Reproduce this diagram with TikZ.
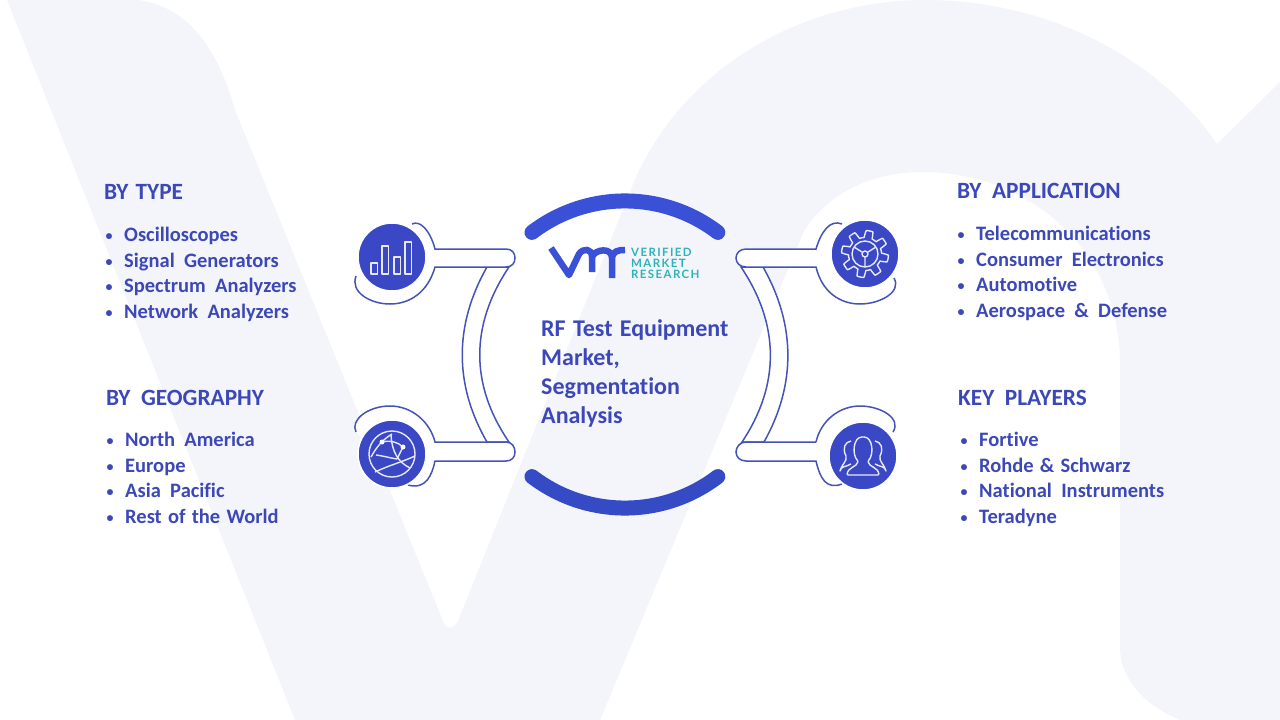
\documentclass[tikz,border=0pt]{standalone}
\usepackage{fontspec}
\setmainfont[Ligatures=CommonOff, WordSpace=2]{Carlito}
\newfontfamily\tightwords[Ligatures=CommonOff, WordSpace=1.35]{Carlito}
\newfontfamily\logofont[LetterSpace=12]{Lato}
\usepackage{xcolor}
\usetikzlibrary{positioning, calc}
\definecolor{palebg}{HTML}{F4F5FB}
\definecolor{textblue}{HTML}{3C48B8}
\definecolor{ballblue}{HTML}{3A48C6}
\definecolor{arcblue}{HTML}{3A50D6}
\definecolor{ringblue}{HTML}{4453B8}
\definecolor{logoteal}{HTML}{2DB4B8}
\newcommand{\blt}{\makebox[20pt][l]{\hspace{1.5pt}\raisebox{1pt}{\fontsize{14}{14}\selectfont •}}}

\begin{document}
\begin{tikzpicture}[x=1pt, y=-1pt,
    head/.style={anchor=base west, inner sep=0, text=textblue, font=\fontsize{23.3}{26}\selectfont\bfseries},
    items/.style={anchor=north west, inner sep=0, align=left, text=textblue, font=\fontsize{20.5}{25.6}\selectfont\bfseries},
    iconball/.style={circle, fill=ballblue, draw=white, line width=1.5pt, minimum size=68pt, inner sep=0},
    ring/.style={draw=ringblue, line width=1.5pt, fill=white},
    bigarc/.style={line width=15pt, line cap=round},
    iconline/.style={draw=white!88!ballblue, line width=1.4pt, line join=round},
    logotext/.style={anchor=base west, inner sep=0, text=logoteal, font=\fontsize{11.5}{11}\selectfont\logofont\bfseries}
]
    \useasboundingbox (0,0) rectangle (1280,720);
    \fill[white] (0,0) rectangle (1280,720);

    % Background letters
    \fill[palebg] (7,0) -- (139,0) .. controls (190,8) and (218,50) .. (235,110)
        -- (443,621) .. controls (447,630) and (453,630) .. (458,621)
        -- (636,177) .. controls (690,60) and (810,0) .. (925,0)
        .. controls (1050,0) and (1160,60) .. (1217,144)
        -- (1280,82) -- (1280,720) -- (1180,720)
        .. controls (1145,705) and (1120,680) .. (1120,647)
        -- (1120,360) .. controls (1118,250) and (1030,172) .. (922,172)
        .. controls (870,172) and (825,195) .. (803,233)
        -- (600,720) -- (295,720) -- cycle;

    % Thick arcs
    \draw[bigarc, arcblue] (532,232.4) arc[start angle=127.4, end angle=52.6, radius=153pt];
    \draw[bigarc, arcblue!92!black] (532,476.6) arc[start angle=232.6, end angle=307.4, radius=153pt];

    % Left band
    \draw[ring] (487,267) .. controls (454,325) and (454,385) .. (487,442) -- (509,442)
        .. controls (470,385) and (470,325) .. (509,267) -- cycle;
    % Right band
    \draw[ring] (763,267) .. controls (796,325) and (796,385) .. (764,442) -- (742,442)
        .. controls (780,385) and (780,325) .. (741,267) -- cycle;

    % Halos with bars
    \draw[ring] (412,224) .. controls (420,220) and (430,230) .. (435,249) -- (506,249)
        .. controls (512,249) and (515,253) .. (515,258) .. controls (515,263) and (512,267) .. (506,267)
        -- (435,267) .. controls (428,292) and (410,304) .. (390,304)
        .. controls (370,304) and (350,292) .. (356,276);
    \draw[ring] (356,432) .. controls (350,420) and (368,406) .. (390,406)
        .. controls (412,406) and (430,422) .. (435,442) -- (506,442)
        .. controls (512,442) and (515,447) .. (515,452) .. controls (515,457) and (512,461) .. (506,461)
        -- (435,461) .. controls (432,475) and (426,490) .. (408,485);
    \draw[ring] (842,224) .. controls (830,219) and (821,232) .. (816,249) -- (746,249)
        .. controls (740,249) and (736,253) .. (736,258) .. controls (736,263) and (740,267) .. (746,267)
        -- (816,267) .. controls (822,292) and (840,304) .. (860,304)
        .. controls (880,304) and (902,292) .. (894,278);
    \draw[ring] (816,442) .. controls (821,420) and (840,406) .. (860,406)
        .. controls (880,406) and (902,418) .. (893,432);
    \draw[ring] (842,484) .. controls (826,490) and (820,478) .. (816,461) -- (746,461)
        .. controls (740,461) and (736,457) .. (736,452) .. controls (736,447) and (740,442) .. (746,442) -- (816,442);

    % Icon discs
    \node[iconball] (typeicon) at (392,257) {};
    \node[iconball] (geoicon) at (392,454) {};
    \node[iconball] (appicon) at (865,254) {};
    \node[iconball] (playericon) at (863,456) {};

    % Bars glyph
    \foreach \xa/\ya in {371/263, 382/246, 394/257, 405/242}
        \draw[iconline] (\xa,\ya) rectangle ++(6.5,\ya*0+274-\ya);

    % Globe glyph
    \draw[iconline] (geoicon.center) circle[radius=23pt];
    \draw[iconline] (371,457) .. controls (376,448) and (382,440) .. (392,434);
    \draw[iconline] (382,442) .. controls (390,440) and (398,442) .. (403,447);
    \draw[iconline] (391,435) .. controls (392,452) and (398,462) .. (410,468);
    \draw[iconline] (375,472) .. controls (390,465) and (402,462) .. (415,456);
    \draw[iconline] (403,447) -- (397,459);
    \draw[iconline] (376,455) .. controls (384,456) and (390,458) .. (397,459);
    \fill[white] (382,442) circle[radius=2.5pt] (403,447) circle[radius=2.5pt];

    % Gear glyph
    \draw[iconline] plot[samples=241, domain=0:360] ({865+(20+3.5*max(-1,min(1,2.5*sin(8*\x)))) * cos(\x)}, {254+(20+3.5*max(-1,min(1,2.5*sin(8*\x)))) * sin(\x)}) -- cycle;
    \draw[iconline] (appicon.center) circle[radius=13pt];
    \draw[iconline] (appicon.center) circle[radius=3pt];
    \draw[iconline] (865,257) -- (865,267) (862,252) -- (854,247) (868,252) -- (876,247);

    % People glyph
    \draw[iconline, rounded corners=1pt] (847,475) .. controls (848,467) and (857,467) .. (858,461)
        .. controls (852,455) and (853,437) .. (863,437) .. controls (873,437) and (874,455) .. (868,461)
        .. controls (869,467) and (878,467) .. (879,475) -- cycle;
    \draw[iconline] (851,464) .. controls (846,467) and (841,466) .. (840,471) .. controls (843,462) and (847,462) .. (846,456)
        .. controls (842,448) and (845,442) .. (851,441);
    \draw[iconline] (875,464) .. controls (880,467) and (885,466) .. (886,471) .. controls (883,462) and (879,462) .. (880,456)
        .. controls (884,448) and (881,442) .. (875,441);

    % Logo
    \draw[arcblue, line width=6.5pt, line join=round] (551,248) -- (569,275) -- (579,254)
        .. controls (583,248) and (592,248) .. (592,257) -- (592,272)
        (592,257) .. controls (595,249) and (612,247) .. (612,258) -- (612,278)
        (612,258) .. controls (613,251) and (618,250) .. (625,250);
    \node[logotext] (logoverified) at (631,256) {VERIFIED};
    \node[logotext] (logomarket) at (631,267) {MARKET};
    \node[logotext] (logoresearch) at (631,278) {RESEARCH};

    % Title
    \node[anchor=north west, inner sep=0, align=left, text=textblue, font=\fontsize{24}{29}\selectfont\tightwords\bfseries] (title) at (541,319.5) {RF Test Equipment\\Market,\\Segmentation\\Analysis};

    % By type
    \node[head, font=\fontsize{23.3}{26}\selectfont\tightwords\bfseries] (typehead) at (104,199) {BY TYPE};
    \node[items] (typelist) at (104,227) {\blt Oscilloscopes\\\blt Signal Generators\\\blt Spectrum Analyzers\\\blt Network Analyzers};

    % By geography
    \node[head] (geohead) at (106,405) {BY GEOGRAPHY};
    \node[items] (geolist) at (105,432) {\blt North America\\\blt Europe\\\blt Asia Pacific\\\blt {\tightwords\bfseries Rest of the World}};

    % By application
    \node[head] (apphead) at (957,198) {BY APPLICATION};
    \node[items] (applist) at (956,226) {\blt Telecommunications\\\blt Consumer Electronics\\\blt Automotive\\\blt Aerospace \& Defense};

    % Key players
    \node[head] (playerhead) at (958,405) {KEY PLAYERS};
    \node[items] (playerlist) at (959,432) {\blt Fortive\\\blt {\tightwords\bfseries Rohde \& Schwarz}\\\blt National Instruments\\\blt Teradyne};
\end{tikzpicture}
\end{document}
